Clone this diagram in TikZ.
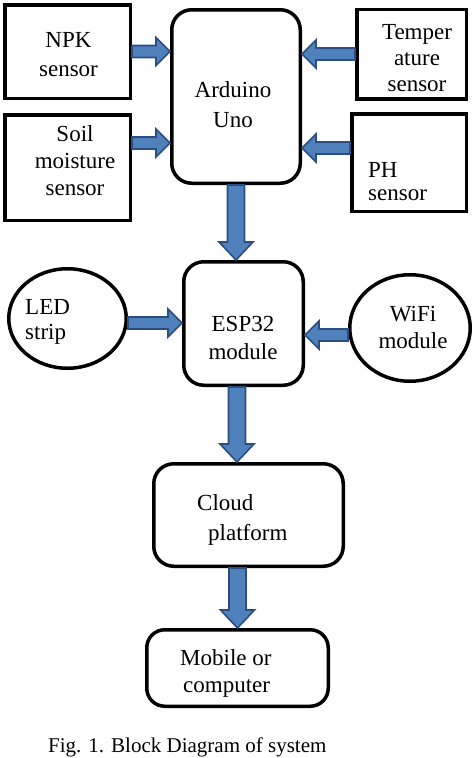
\documentclass[tikz,border=0pt]{standalone}
\usepackage{fontspec}
\setmainfont{Liberation Serif}
\usetikzlibrary{calc,shapes.geometric}
\definecolor{afill}{HTML}{4F81BD}
\definecolor{aline}{HTML}{2C4D7F}
\begin{document}
\begin{tikzpicture}[x=1pt,y=-1pt,
  box/.style={draw, line width=3.5pt, inner sep=0pt},
  rbox/.style={box, rounded corners=20pt},
  oval/.style={box, ellipse},
  txt/.style={font=\fontsize{23}{27}\selectfont, inner sep=0pt, align=center},
  barrow/.style={draw=aline, fill=afill, line width=1.6pt, line join=miter,
    to path={let \p1=(\tikztostart), \p2=(\tikztotarget),
      \n1={veclen(\x2-\x1,\y2-\y1)}, \n2={(\x2-\x1)/\n1}, \n3={(\y2-\y1)/\n1} in
      ({\x1-\shw*\n3}, {\y1+\shw*\n2})
      -- ({\x1+(\n1-\hdl)*\n2-\shw*\n3}, {\y1+(\n1-\hdl)*\n3+\shw*\n2})
      -- ({\x1+(\n1-\hdl)*\n2-\hdw*\n3}, {\y1+(\n1-\hdl)*\n3+\hdw*\n2})
      -- (\p2)
      -- ({\x1+(\n1-\hdl)*\n2+\hdw*\n3}, {\y1+(\n1-\hdl)*\n3-\hdw*\n2})
      -- ({\x1+(\n1-\hdl)*\n2+\shw*\n3}, {\y1+(\n1-\hdl)*\n3-\shw*\n2})
      -- ({\x1+\shw*\n3}, {\y1-\shw*\n2}) -- cycle}},
  harr/.style={barrow, /utils/exec={\def\shw{6}\def\hdw{14}\def\hdl{14}}},
  varr/.style={barrow, /utils/exec={\def\shw{8.5}\def\hdw{17}\def\hdl{18}}}]
\useasboundingbox (0,0) rectangle (474,758);

% blocks
\node[box, minimum width=125.5pt, minimum height=93.5pt] (npk) at (67.5,51.5) {};
\node[box, minimum width=125.5pt, minimum height=105.5pt] (soil) at (67.5,167.5) {};
\node[rbox, minimum width=128.5pt, minimum height=173.5pt] (ard) at (236,96.5) {};
\node[box, minimum width=109.5pt, minimum height=89.5pt] (temp) at (411.5,54) {};
\node[box, minimum width=114.5pt, minimum height=97.5pt] (ph) at (409,162.5) {};
\node[oval, minimum width=117.5pt, minimum height=99.5pt] (led) at (67.5,318.5) {};
\node[rbox, minimum width=119.5pt, minimum height=123.5pt] (esp) at (243.5,323.5) {};
\node[oval, minimum width=120.5pt, minimum height=106.5pt] (wifi) at (410,328) {};
\node[rbox, minimum width=189.5pt, minimum height=102.5pt] (cloud) at (248.5,515) {};
\node[rbox, minimum width=181.5pt, minimum height=76.5pt, rounded corners=18pt] (mob) at (237.5,668) {};

% texts
\node[txt, font=\fontsize{23}{29}\selectfont] (npkT) at (68.5,55) {NPK\\sensor};
\node[txt] (soilT) at (75,161) {Soil\\moisture\\sensor};
\node[txt, font=\fontsize{23}{30}\selectfont] (ardT) at (233,104.5) {Arduino\\Uno};
\node[txt, font=\fontsize{23}{26}\selectfont] (tempT) at (417,58.5) {Temper\\ature\\sensor};
\node[txt, align=left, anchor=west, font=\fontsize{23}{23.5}\selectfont] (phT) at (368,181.5) {PH\\sensor};
\node[txt, align=left, anchor=west, font=\fontsize{23}{25}\selectfont] (ledT) at (25,321.5) {LED\\strip};
\node[txt, font=\fontsize{23}{28}\selectfont] (espT) at (243,337.5) {ESP32\\module};
\node[txt] (wifiT) at (413,327) {WiFi\\module};
\node[txt, align=left, anchor=west, font=\fontsize{23}{30}\selectfont] (cloudT) at (197,520) {Cloud\\\hspace*{11pt}platform};
\node[txt, align=left, anchor=west] (mobT) at (180,673.5) {Mobile or\\\hspace*{3pt}computer};
\node[inner sep=0pt, anchor=base west, font=\fontsize{21}{25}\selectfont] (cap) at (48,752) {Fig. 1. Block Diagram of system};

% arrows
\path[harr] (npk.east) to (npk.east -| ard.west);
\path[harr] (soil.east |- 0,143) to (ard.west |- 0,143);
\path[harr] (temp.west) to (temp.west -| ard.east);
\path[harr] (ph.west |- 0,148) to (ard.east |- 0,148);
\path[varr] (ard.south) to (ard.south |- esp.north);
\path[harr] (led.east |- 0,323) to (esp.west |- 0,323);
\path[harr] (wifi.west |- 0,335) to (esp.east |- 0,335);
\path[varr] (esp.south -| 237,0) to (cloud.north -| 237,0);
\path[varr] (cloud.south -| mob.north) to (mob.north);
\end{tikzpicture}
\end{document}
